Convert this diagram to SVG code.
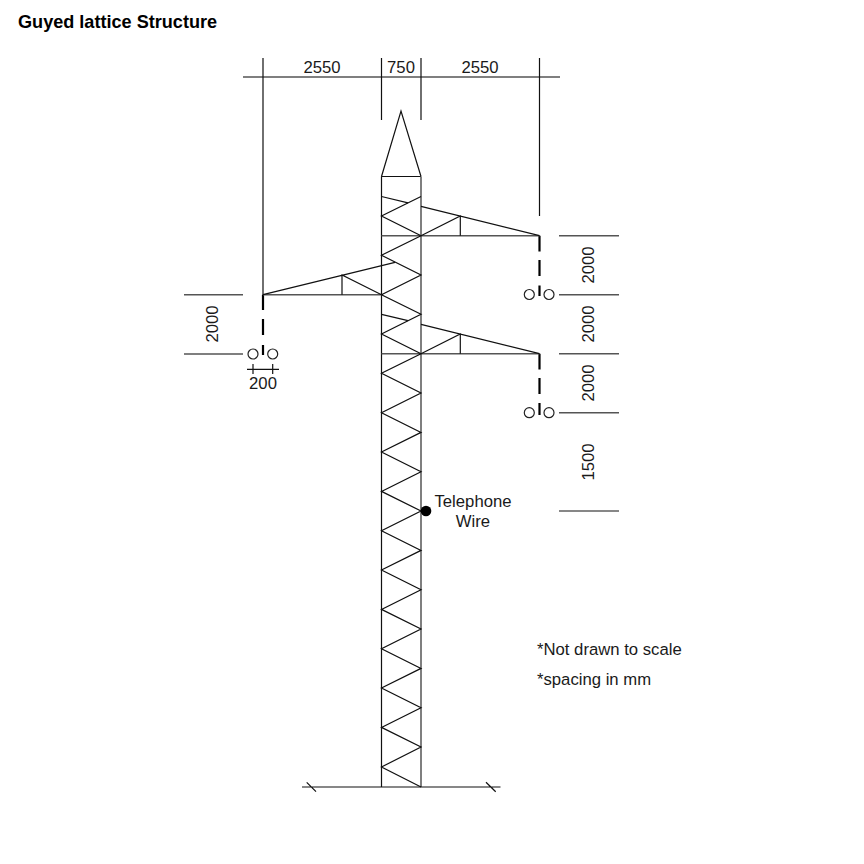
<svg xmlns="http://www.w3.org/2000/svg" width="864" height="864" viewBox="0 0 864 864">
<style>
text{font-family:"Liberation Sans",Arial,sans-serif;font-size:16.7px;fill:#1a1a1a}
.m{text-anchor:middle}
.t{font-weight:bold;fill:#000;font-size:18.1px}
line,path,polyline,circle{fill:none;stroke:#111;stroke-width:1.2}
.g{stroke:#555;stroke-width:1.5}
.h{stroke:#000;stroke-width:2.2}
circle.o{stroke:#222;stroke-width:1.2}
</style>
<rect width="864" height="864" fill="#fff"/>
<text class="t" x="18" y="27.5">Guyed lattice Structure</text>
<g id="connectors">
<path class="g" d="M243 77H560M184 294.7H243M184 354H243M559 235.7H619M559 294.7H619M559 353.7H619M559 412.7H619"/>
<path d="M559 511H619M263 58V295M381.5 58V120M421 58V120M539.5 58V216"/>
<path d="M247 369.3H279M253 364V374M272.7 364V374"/>
<path class="h" d="M539.5 235.7V251.5M539.5 260V276M539.5 285.5V296M539.5 353.7V369.5M539.5 378V394M539.5 403V415M263 294.7V310M263 319V335M263 345V355"/>
</g>
<g id="tower">
<path d="M381.5 176.5L401 111L421 176.5M381.5 176.5H421M381.5 176.5V787"/>
<path class="g" d="M421 176.5V787M381.5 235.7H539.5M381.5 353.7H539.5M263 294.7H381.5"/>
<polyline points="421,196.5 381.5,216 421,235.7 381.5,255.3 421,275 381.5,294.7 421,314.3 381.5,334 421,353.7 381.5,373.3 421,393 381.5,412.7 421,432.4 381.5,452 421,471.7 381.5,491.4 421,511 381.5,530.7 421,550.4 381.5,570 421,589.7 381.5,609.4 421,629 381.5,648.7 421,668.4 381.5,688 421,707.7 381.5,727.4 421,747 381.5,767 421,787"/>
<path d="M381.5 196.5L408 202.8M381.5 314.3L408 320.6M421 206.3L539.5 235.7M421 324.3L539.5 353.7M421 235.7L460.3 216V235.7M421 353.7L460.3 334V353.7M263 294.7L395 262.3M381.5 294.7L342 275V294.7"/>
<path d="M302 787H500.5M306.7 782.3L316 791.7M486 782.3L495.7 791.7"/>
</g>
<g id="insulators">
<circle class="o" cx="529.3" cy="294.5" r="5"/><circle class="o" cx="549" cy="294.5" r="5"/>
<circle class="o" cx="529.3" cy="412.7" r="5"/><circle class="o" cx="549" cy="412.7" r="5"/>
<circle class="o" cx="253" cy="354" r="5"/><circle class="o" cx="272.7" cy="354" r="5"/>
</g>
<g id="telephone-wire">
<circle cx="426" cy="511" r="5.3" style="fill:#000;stroke:none"/>
<text class="m" x="473" y="507">Telephone</text>
<text class="m" x="473" y="527">Wire</text>
</g>
<g id="dimensions">
<text class="m" x="322" y="73">2550</text>
<text class="m" x="401" y="73">750</text>
<text class="m" x="480" y="73">2550</text>
<text class="m" x="263" y="389">200</text>
<text class="m" transform="translate(218 324) rotate(-90)">2000</text>
<text class="m" transform="translate(594 265) rotate(-90)">2000</text>
<text class="m" transform="translate(594 324) rotate(-90)">2000</text>
<text class="m" transform="translate(594 383) rotate(-90)">2000</text>
<text class="m" transform="translate(594 462) rotate(-90)">1500</text>
</g>
<g id="notes">
<text x="537" y="655">*Not drawn to scale</text>
<text x="537" y="685">*spacing in mm</text>
</g>
</svg>
